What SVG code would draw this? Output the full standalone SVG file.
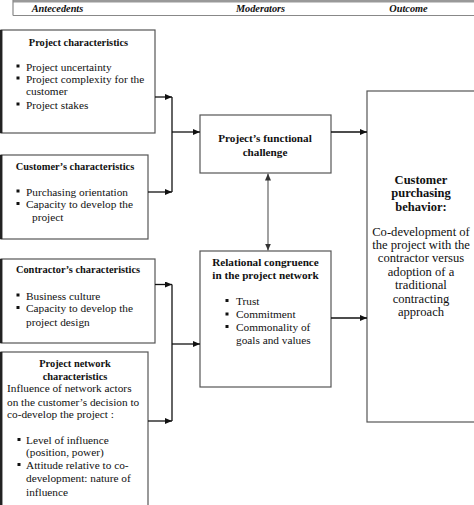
<svg xmlns="http://www.w3.org/2000/svg" width="474" height="505" viewBox="0 0 474 505">
<defs>
<marker id="ah" markerWidth="7" markerHeight="6" refX="7" refY="3" orient="auto-start-reverse" markerUnits="userSpaceOnUse"><path d="M0,0 L7,3 L0,6 z" fill="#111"/></marker>
<marker id="ahg" markerWidth="7" markerHeight="6" refX="7" refY="3" orient="auto-start-reverse" markerUnits="userSpaceOnUse"><path d="M0,0 L7,3 L0,6 z" fill="#333"/></marker>
<style>
text{font-family:"Liberation Serif","Times New Roman",serif;fill:#111}
.hd{font-size:10.3px;font-weight:bold;font-style:italic;text-anchor:middle}
.tl{font-size:10.4px;font-weight:bold;text-anchor:middle}
.tm{font-size:11.2px;font-weight:bold;text-anchor:middle}
.tr{font-size:12.5px;font-weight:bold;text-anchor:middle}
.b{font-size:11.3px}
.br{font-size:12.6px;text-anchor:middle}
.box{fill:#fff;stroke:#555;stroke-width:1.2}
.edge{stroke:#222;stroke-width:2.5}
.bl{fill:#111}
.c{fill:none;stroke:#111;stroke-width:1.3}
.cg{fill:none;stroke:#555;stroke-width:1.1}
</style>
</defs>
<rect width="474" height="505" fill="#fff"/>
<g id="header">
<rect x="13" y="0" width="461" height="2.5" fill="#999"/>
<line x1="13" y1="0" x2="13" y2="15.5" stroke="#888" stroke-width="1.2"/>
<line x1="13" y1="15.5" x2="474" y2="15.5" stroke="#888" stroke-width="1.2"/>
<text class="hd" x="57.5" y="12">Antecedents</text>
<text class="hd" x="260.5" y="12">Moderators</text>
<text class="hd" x="408.5" y="12">Outcome</text>
</g>
<g id="project-characteristics">
<rect class="box" x="1" y="30" width="154" height="103"/>
<line class="edge" x1="1.2" y1="30" x2="1.2" y2="133"/>
<text class="tl" x="78.5" y="45.5">Project characteristics</text>
<rect class="bl" x="16.5" y="64.5" width="3" height="3"/>
<text class="b" x="26" y="70.5">Project uncertainty</text>
<rect class="bl" x="16.5" y="76.5" width="3" height="3"/>
<text class="b" x="26" y="82.5">Project complexity for the</text>
<text class="b" x="26" y="94.5">customer</text>
<rect class="bl" x="16.5" y="102.5" width="3" height="3"/>
<text class="b" x="26" y="108.5">Project stakes</text>
</g>
<g id="customer-characteristics">
<rect class="box" x="1" y="155" width="147" height="84"/>
<line class="edge" x1="1.2" y1="155" x2="1.2" y2="239"/>
<text class="tl" x="75" y="170">Customer’s characteristics</text>
<rect class="bl" x="16.5" y="189.5" width="3" height="3"/>
<text class="b" x="26" y="195.5">Purchasing orientation</text>
<rect class="bl" x="16.5" y="202" width="3" height="3"/>
<text class="b" x="26" y="208">Capacity to develop the</text>
<text class="b" x="32" y="221">project</text>
</g>
<g id="contractor-characteristics">
<rect class="box" x="1" y="259" width="154" height="84"/>
<line class="edge" x1="1.2" y1="259" x2="1.2" y2="343"/>
<text class="tl" x="78" y="273">Contractor’s characteristics</text>
<rect class="bl" x="16.5" y="293.5" width="3" height="3"/>
<text class="b" x="26" y="299.5">Business culture</text>
<rect class="bl" x="16.5" y="306" width="3" height="3"/>
<text class="b" x="26" y="312">Capacity to develop the</text>
<text class="b" x="26" y="325.5">project design</text>
</g>
<g id="project-network-characteristics">
<rect class="box" x="1" y="352" width="147" height="156"/>
<line class="edge" x1="1.2" y1="352" x2="1.2" y2="505"/>
<text class="tl" x="75" y="367">Project network</text>
<text class="tl" x="75" y="379.5">characteristics</text>
<text class="b" x="7" y="392">Influence of network actors</text>
<text class="b" x="7" y="405.5">on the customer’s decision to</text>
<text class="b" x="7" y="418">co-develop the project :</text>
<rect class="bl" x="17.5" y="438" width="3" height="3"/>
<text class="b" x="26" y="444">Level of influence</text>
<text class="b" x="26" y="455.5">(position, power)</text>
<rect class="bl" x="17.5" y="463" width="3" height="3"/>
<text class="b" x="26" y="469">Attitude relative to co-</text>
<text class="b" x="26" y="482">development: nature of</text>
<text class="b" x="26" y="495.5">influence</text>
</g>
<g id="functional-challenge">
<rect class="box" x="200" y="115" width="131" height="58"/>
<text class="tm" x="265" y="142">Project’s functional</text>
<text class="tm" x="265" y="155.5">challenge</text>
</g>
<g id="relational-congruence">
<rect class="box" x="200" y="251" width="131" height="136"/>
<text class="tm" x="265.5" y="265.5">Relational congruence</text>
<text class="tm" x="265.5" y="279">in the project network</text>
<rect class="bl" x="225.5" y="299" width="3" height="3"/>
<text class="b" x="236" y="304.5">Trust</text>
<rect class="bl" x="225.5" y="312.5" width="3" height="3"/>
<text class="b" x="236" y="318">Commitment</text>
<rect class="bl" x="225.5" y="325" width="3" height="3"/>
<text class="b" x="236" y="330.5">Commonality of</text>
<text class="b" x="236" y="344">goals and values</text>
</g>
<g id="customer-purchasing-behavior">
<rect class="box" x="367" y="91" width="110" height="331"/>
<text class="tr" x="421" y="184">Customer</text>
<text class="tr" x="421" y="197.4">purchasing</text>
<text class="tr" x="421" y="210.8">behavior:</text>
<text class="br" x="421" y="235.5">Co-development of</text>
<text class="br" x="421" y="248.9">the project with the</text>
<text class="br" x="421" y="262.3">contractor versus</text>
<text class="br" x="421" y="275.7">adoption of a</text>
<text class="br" x="421" y="289.1">traditional</text>
<text class="br" x="421" y="302.5">contracting</text>
<text class="br" x="421" y="315.9">approach</text>
</g>
<g id="connectors">
<line class="c" x1="155" y1="97" x2="172" y2="97" marker-end="url(#ah)"/>
<line class="c" x1="148" y1="192" x2="172" y2="192" marker-end="url(#ah)"/>
<line class="c" x1="172" y1="97" x2="172" y2="192"/>
<line class="c" x1="172" y1="132" x2="200" y2="132" marker-end="url(#ah)"/>
<line class="c" x1="155" y1="284.5" x2="172" y2="284.5" marker-end="url(#ah)"/>
<line class="c" x1="148" y1="421" x2="172" y2="421" marker-end="url(#ah)"/>
<line class="c" x1="172" y1="284.5" x2="172" y2="421"/>
<line class="c" x1="172" y1="344" x2="200" y2="344" marker-end="url(#ah)"/>
<line class="c" x1="331" y1="132" x2="367" y2="132" marker-end="url(#ah)"/>
<line class="c" x1="331" y1="318" x2="367" y2="318" marker-end="url(#ah)"/>
<line class="cg" x1="268" y1="173.5" x2="268" y2="250.5" marker-start="url(#ahg)" marker-end="url(#ahg)"/>
</g>
</svg>
